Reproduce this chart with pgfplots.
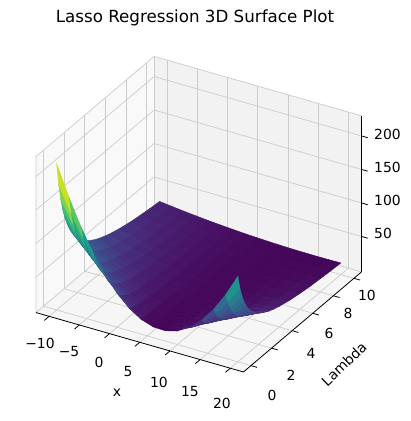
\documentclass[border=0pt]{standalone}
\usepackage{fontspec}
\setmainfont{DejaVu Sans}
\usepackage{pgfplots}
\pgfplotsset{compat=1.18}
\definecolor{gridc}{gray}{0.80}
\definecolor{paneA}{gray}{0.975}
\definecolor{paneB}{gray}{0.95}
\definecolor{paneC}{gray}{0.9625}
\begin{document}
\begin{tikzpicture}
\begin{axis}[
  set layers,
  anchor=origin, at={(117.05pt,95.75pt)},
  x={(6.04pt,-1.73pt)}, y={(10.3pt,8.73pt)}, z={(0pt,0.67pt)},
  xmin=-12.17, xmax=22.17, ymin=-0.73, ymax=10.73, zmin=-3, zmax=230,
  xtick={-10,-5,...,20}, ytick={0,2,...,10}, ztick={50,100,150,200},
  xticklabels={}, yticklabels={}, zticklabels={},
  grid=major, major grid style={draw=gridc, line width=0.7pt},
  axis line style={draw=none},
  major tick length=0pt,
  colormap/viridis,
  point meta min=12, point meta max=185,
  clip=false,
]
\begin{pgfonlayer}{axis background}
\fill[paneA] (axis cs:-12.17,-0.73,-3) -- (axis cs:-12.17,10.73,-3) -- (axis cs:-12.17,10.73,230) -- (axis cs:-12.17,-0.73,230) -- cycle;
\fill[paneB] (axis cs:-12.17,10.73,-3) -- (axis cs:22.17,10.73,-3) -- (axis cs:22.17,10.73,230) -- (axis cs:-12.17,10.73,230) -- cycle;
\fill[paneC] (axis cs:-12.17,-0.73,-3) -- (axis cs:22.17,-0.73,-3) -- (axis cs:22.17,10.73,-3) -- (axis cs:-12.17,10.73,-3) -- cycle;
\draw[gridc, line width=0.7pt] (axis cs:-12.17,-0.73,-3) -- (axis cs:-12.17,-0.73,230) -- (axis cs:-12.17,10.73,230) -- (axis cs:22.17,10.73,230);
\draw[gridc, line width=0.7pt] (axis cs:-12.17,10.73,-3) -- (axis cs:-12.17,10.73,230);
\draw[gridc, line width=0.7pt] (axis cs:-12.17,-0.73,-3) -- (axis cs:-12.17,10.73,-3) -- (axis cs:22.17,10.73,-3);
\end{pgfonlayer}
\addplot3[surf, shader=flat mean, z buffer=sort, mesh/rows=19] coordinates {
(-10,0,215.5) (-8,0,171.0) (-6,0,131.9) (-4,0,98.3) (-2,0,70.2) (0,0,47.7) (2,0,30.6) (4,0,19.0) (6,0,13.0) (8,0,12.4) (10,0,17.4) (12,0,27.9) (14,0,43.8) (16,0,65.3) (18,0,92.2) (20,0,124.7)
(-10,0.2,181.3) (-8,0.2,144.5) (-6,0.2,112.2) (-4,0.2,84.4) (-2,0.2,61.2) (0,0.2,42.5) (2,0.2,28.3) (4,0.2,18.7) (6,0.2,13.6) (8,0.2,13.0) (10,0.2,16.9) (12,0.2,25.4) (14,0.2,38.4) (16,0.2,55.9) (18,0.2,77.9) (20,0.2,104.5)
(-10,0.4,156.8) (-8,0.4,125.6) (-6,0.4,98.1) (-4,0.4,74.5) (-2,0.4,54.7) (0,0.4,38.9) (2,0.4,26.7) (4,0.4,18.4) (6,0.4,14.0) (8,0.4,13.3) (10,0.4,16.6) (12,0.4,23.6) (14,0.4,34.5) (16,0.4,49.2) (18,0.4,67.7) (20,0.4,90.0)
(-10,0.6,138.4) (-8,0.6,111.4) (-6,0.6,87.6) (-4,0.6,67.1) (-2,0.6,49.9) (0,0.6,36.1) (2,0.6,25.5) (4,0.6,18.2) (6,0.6,14.3) (8,0.6,13.6) (10,0.6,16.3) (12,0.6,22.3) (14,0.6,31.6) (16,0.6,44.1) (18,0.6,60.0) (20,0.6,79.2)
(-10,0.8,124.2) (-8,0.8,100.4) (-6,0.8,79.4) (-4,0.8,61.3) (-2,0.8,46.2) (0,0.8,34.0) (2,0.8,24.6) (4,0.8,18.1) (6,0.8,14.6) (8,0.8,13.9) (10,0.8,16.1) (12,0.8,21.3) (14,0.8,29.3) (16,0.8,40.2) (18,0.8,54.0) (20,0.8,70.7)
(-10,1.0,112.8) (-8,1.0,91.5) (-6,1.0,72.8) (-4,1.0,56.7) (-2,1.0,43.1) (0,1.0,32.2) (2,1.0,23.8) (4,1.0,18.0) (6,1.0,14.8) (8,1.0,14.1) (10,1.0,16.0) (12,1.0,20.4) (14,1.0,27.5) (16,1.0,37.1) (18,1.0,49.2) (20,1.0,64.0)
(-10,1.3,99.4) (-8,1.3,81.2) (-6,1.3,65.1) (-4,1.3,51.3) (-2,1.3,39.6) (0,1.3,30.2) (2,1.3,23.0) (4,1.3,17.8) (6,1.3,15.0) (8,1.3,14.3) (10,1.3,15.8) (12,1.3,19.4) (14,1.3,25.3) (16,1.3,33.4) (18,1.3,43.6) (20,1.3,56.1)
(-10,1.6,89.1) (-8,1.6,73.2) (-6,1.6,59.2) (-4,1.6,47.1) (-2,1.6,36.9) (0,1.6,28.7) (2,1.6,22.3) (4,1.6,17.7) (6,1.6,15.2) (8,1.6,14.4) (10,1.6,15.6) (12,1.6,18.7) (14,1.6,23.7) (16,1.6,30.6) (18,1.6,39.3) (20,1.6,50.0)
(-10,2.0,78.5) (-8,2.0,65.0) (-6,2.0,53.1) (-4,2.0,42.9) (-2,2.0,34.1) (0,2.0,27.1) (2,2.0,21.6) (4,2.0,17.6) (6,2.0,15.4) (8,2.0,14.6) (10,2.0,15.5) (12,2.0,17.9) (14,2.0,22.0) (16,2.0,27.7) (18,2.0,34.9) (20,2.0,43.7)
(-10,2.5,68.7) (-8,2.5,57.5) (-6,2.5,47.5) (-4,2.5,38.9) (-2,2.5,31.5) (0,2.5,25.6) (2,2.5,20.9) (4,2.5,17.5) (6,2.5,15.5) (8,2.5,14.8) (10,2.5,15.4) (12,2.5,17.2) (14,2.5,20.5) (16,2.5,25.0) (18,2.5,30.8) (20,2.5,38.0)
(-10,3.0,61.4) (-8,3.0,51.8) (-6,3.0,43.3) (-4,3.0,35.9) (-2,3.0,29.6) (0,3.0,24.5) (2,3.0,20.5) (4,3.0,17.4) (6,3.0,15.6) (8,3.0,14.9) (10,3.0,15.3) (12,3.0,16.7) (14,3.0,19.3) (16,3.0,23.0) (18,3.0,27.8) (20,3.0,33.6)
(-10,3.5,55.7) (-8,3.5,47.4) (-6,3.5,40.0) (-4,3.5,33.6) (-2,3.5,28.1) (0,3.5,23.7) (2,3.5,20.1) (4,3.5,17.4) (6,3.5,15.7) (8,3.5,15.0) (10,3.5,15.2) (12,3.5,16.3) (14,3.5,18.4) (16,3.5,21.4) (18,3.5,25.4) (20,3.5,30.2)
(-10,4.0,51.1) (-8,4.0,43.8) (-6,4.0,37.4) (-4,4.0,31.8) (-2,4.0,26.9) (0,4.0,23.0) (2,4.0,19.8) (4,4.0,17.3) (6,4.0,15.8) (8,4.0,15.0) (10,4.0,15.1) (12,4.0,15.9) (14,4.0,17.7) (16,4.0,20.2) (18,4.0,23.5) (20,4.0,27.6)
(-10,5,44.3) (-8,5,38.5) (-6,5,33.5) (-4,5,29.0) (-2,5,25.1) (0,5,21.9) (2,5,19.3) (4,5,17.3) (6,5,15.9) (8,5,15.2) (10,5,15.0) (12,5,15.4) (14,5,16.6) (16,5,18.3) (18,5,20.6) (20,5,23.5)
(-10,6,39.4) (-8,6,34.8) (-6,6,30.6) (-4,6,27.0) (-2,6,23.8) (0,6,21.2) (2,6,19.0) (4,6,17.2) (6,6,16.0) (8,6,15.2) (10,6,15.0) (12,6,15.1) (14,6,15.8) (16,6,16.9) (18,6,18.6) (20,6,20.6)
(-10,7,35.7) (-8,7,31.9) (-6,7,28.5) (-4,7,25.5) (-2,7,22.9) (0,7,20.7) (2,7,18.8) (4,7,17.2) (6,7,16.1) (8,7,15.3) (10,7,14.9) (12,7,14.8) (14,7,15.2) (16,7,15.9) (18,7,17.0) (20,7,18.4)
(-10,8,32.9) (-8,8,29.7) (-6,8,26.9) (-4,8,24.4) (-2,8,22.1) (0,8,20.2) (2,8,18.6) (4,8,17.1) (6,8,16.1) (8,8,15.3) (10,8,14.9) (12,8,14.6) (14,8,14.8) (16,8,15.1) (18,8,15.8) (20,8,16.8)
(-10,9,30.6) (-8,9,28.0) (-6,9,25.6) (-4,9,23.5) (-2,9,21.5) (0,9,19.9) (2,9,18.4) (4,9,17.1) (6,9,16.2) (8,9,15.4) (10,9,14.8) (12,9,14.4) (14,9,14.4) (16,9,14.5) (18,9,14.9) (20,9,15.4)
(-10,10,28.7) (-8,10,26.5) (-6,10,24.5) (-4,10,22.7) (-2,10,21.0) (0,10,19.6) (2,10,18.3) (4,10,17.1) (6,10,16.2) (8,10,15.4) (10,10,14.8) (12,10,14.3) (14,10,14.1) (16,10,14.0) (18,10,14.1) (20,10,14.3)
};
\draw[black, line width=0.8pt] (axis cs:-12.17,-0.73,-3) -- (axis cs:22.17,-0.73,-3) -- (axis cs:22.17,10.73,-3);
\draw[black, line width=0.8pt] (axis cs:22.17,10.73,-3) -- (axis cs:22.17,10.73,230);
\pgfplotsinvokeforeach{-10,-5,0,5,10,15,20}{\draw[black, line width=0.8pt] (axis cs:#1,-0.73,-3) -- (axis cs:#1,-1.2,-3);}
\pgfplotsinvokeforeach{0,2,4,6,8,10}{\draw[black, line width=0.8pt] (axis cs:22.17,#1,-3) -- (axis cs:23.2,#1,-3);}
\pgfplotsinvokeforeach{50,100,150,200}{\draw[black, line width=0.8pt] (axis cs:22.17,10.73,#1) -- (axis cs:23.2,10.73,#1);}
\end{axis}
\begin{scope}[every node/.style={font=\fontsize{13.9pt}{16pt}\selectfont, inner sep=0pt}]
\node at (40pt,78pt) {−10};
\node at (69pt,69pt) {−5};
\node at (99pt,59pt) {0};
\node at (128pt,49pt) {5};
\node at (159pt,39pt) {10};
\node at (190pt,29pt) {15};
\node at (222pt,18pt) {20};
\node at (117pt,28pt) {x};
\node at (272pt,26pt) {0};
\node at (291pt,46pt) {2};
\node at (311pt,68pt) {4};
\node at (329pt,88pt) {6};
\node at (348pt,108pt) {8};
\node at (367pt,126pt) {10};
\node[rotate=44] at (344pt,57pt) {Lambda};
\node[anchor=west] at (374pt,287pt) {200};
\node[anchor=west] at (374pt,254pt) {150};
\node[anchor=west] at (374pt,221pt) {100};
\node[anchor=west] at (374pt,188pt) {50};
\end{scope}
\node[font=\fontsize{16.7pt}{20pt}\selectfont, inner sep=0pt] at (195pt,403pt) {Lasso Regression 3D Surface Plot};
\pgfresetboundingbox
\path[use as bounding box] (0pt,0pt) rectangle (411pt,421pt);
\end{tikzpicture}
\end{document}
